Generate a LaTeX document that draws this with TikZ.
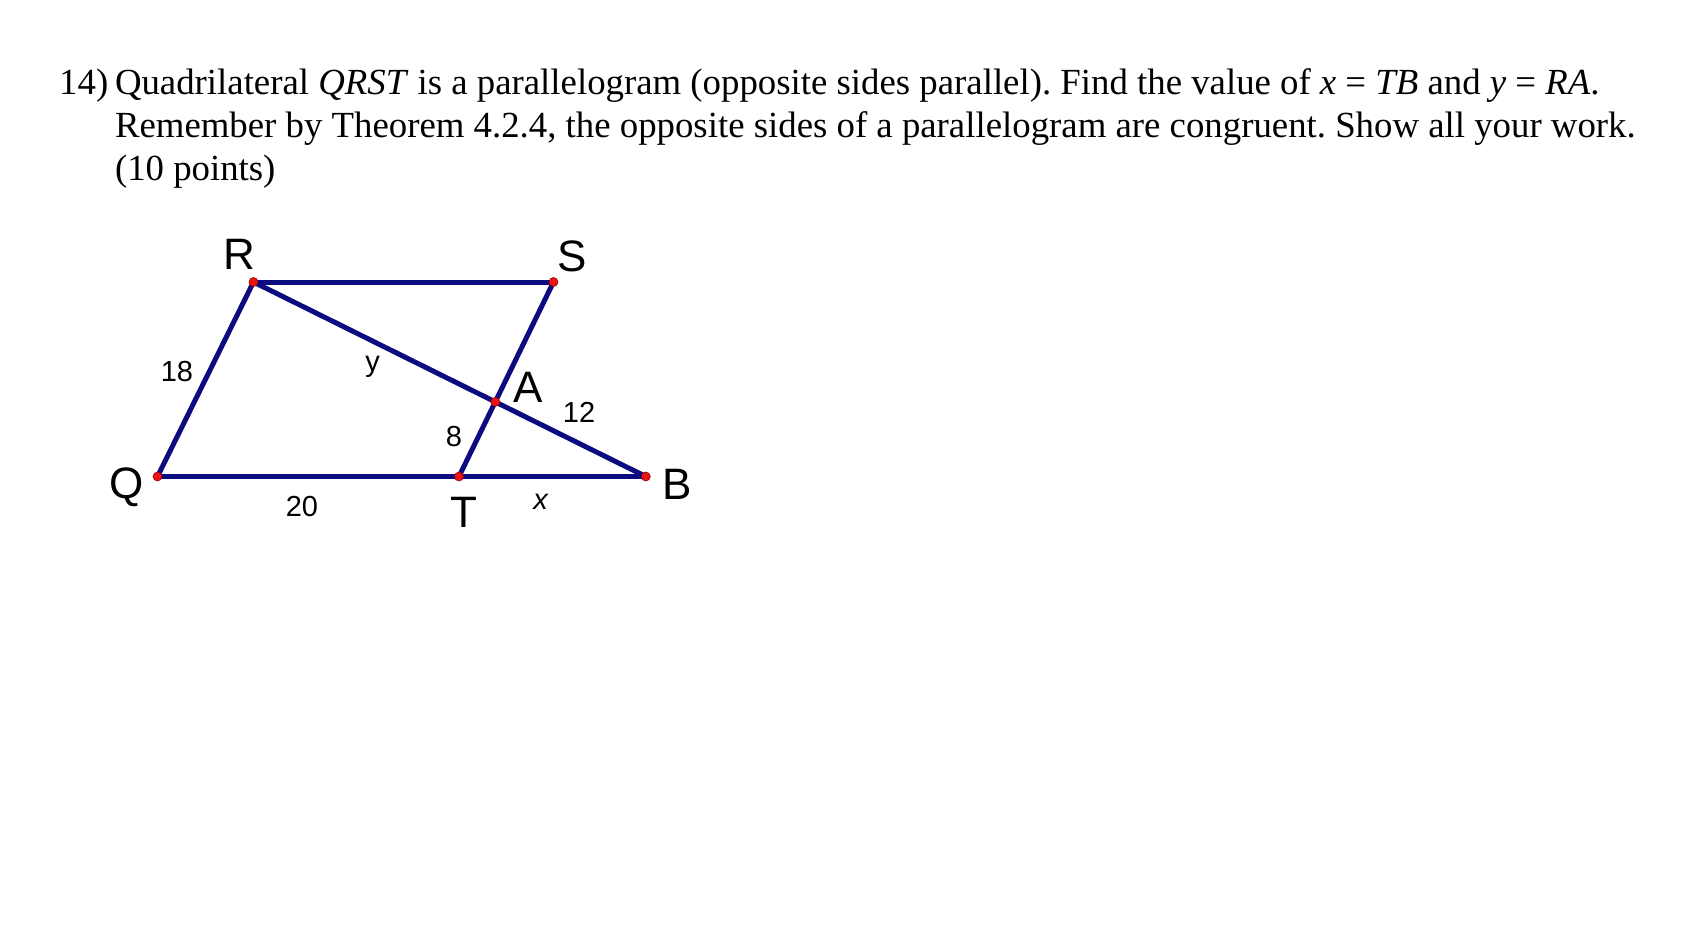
\documentclass[tikz,border=0pt]{standalone}
\usepackage{fontspec}
\setmainfont{Liberation Serif}
\newfontfamily\labfont{Liberation Sans}
\usetikzlibrary{calc}
\definecolor{edgeblue}{RGB}{12,12,128}
\definecolor{dotred}{RGB}{235,20,20}
\definecolor{dotrim}{RGB}{150,0,0}
\frenchspacing
\begin{document}
\begin{tikzpicture}[x=1pt,y=-1pt,
  edge/.style={draw=edgeblue,line width=5pt,line cap=round,line join=round},
  dot/.style={circle,fill=dotred,draw=dotrim,line width=0.6pt,inner sep=0pt,minimum size=9pt},
  biglab/.style={anchor=base,inner sep=0pt,font=\labfont\fontsize{44}{44}\selectfont},
  numlab/.style={anchor=base,inner sep=0pt,font=\labfont\fontsize{29}{29}\selectfont},
  txt/.style={anchor=base west,inner sep=0pt,font=\fontsize{36.8}{37}\selectfont}]
\useasboundingbox (0,0) rectangle (1682,948);
% text
\node[txt] (num) at (59,94) {14)};
\node[txt] (l1) at (114.8,94) {Quadrilateral \textit{QRST} is a parallelogram (opposite sides parallel). Find the value of \textit{x} = \textit{TB} and \textit{y} = \textit{RA}.};
\node[txt] (l2) at (114.8,137) {Remember by Theorem 4.2.4, the opposite sides of a parallelogram are congruent. Show all your work.};
\node[txt] (l3) at (114.8,180) {(10 points)};
% points
\coordinate (Q) at (157.5,476.5);
\coordinate (R) at (253.5,282);
\coordinate (S) at (553.5,282);
\coordinate (T) at (459,476.5);
\coordinate (B) at (645.8,476.5);
\coordinate (A) at (intersection of R--B and T--S);
% edges
\draw[edge] (Q) -- (R);
\draw[edge] (R) -- (S);
\draw[edge] (S) -- (T);
\draw[edge] (Q) -- (B);
\draw[edge] (R) -- (B);
% dots
\foreach \p in {Q,R,S,T,B,A} \node[dot] at (\p) {};
% vertex labels
\node[biglab] (lR) at (239,269.7) {R};
\node[biglab] (lS) at (572.5,271.7) {S};
\node[biglab] (lQ) at (126.5,498) {Q};
\node[biglab] (lT) at (464,527.7) {T};
\node[biglab] (lB) at (677,499) {B};
\node[biglab] (lA) at (528,402.7) {A};
% measure labels
\node[numlab] (n18) at (177,381) {18};
\node[numlab] (ny) at (372.5,371.5) {y};
\node[numlab] (n12) at (579,422) {12};
\node[numlab] (n8) at (454,446.5) {8};
\node[numlab] (n20) at (302,516.5) {20};
\node[numlab] (nx) at (540.5,509.5) {\itshape x};
\end{tikzpicture}
\end{document}
